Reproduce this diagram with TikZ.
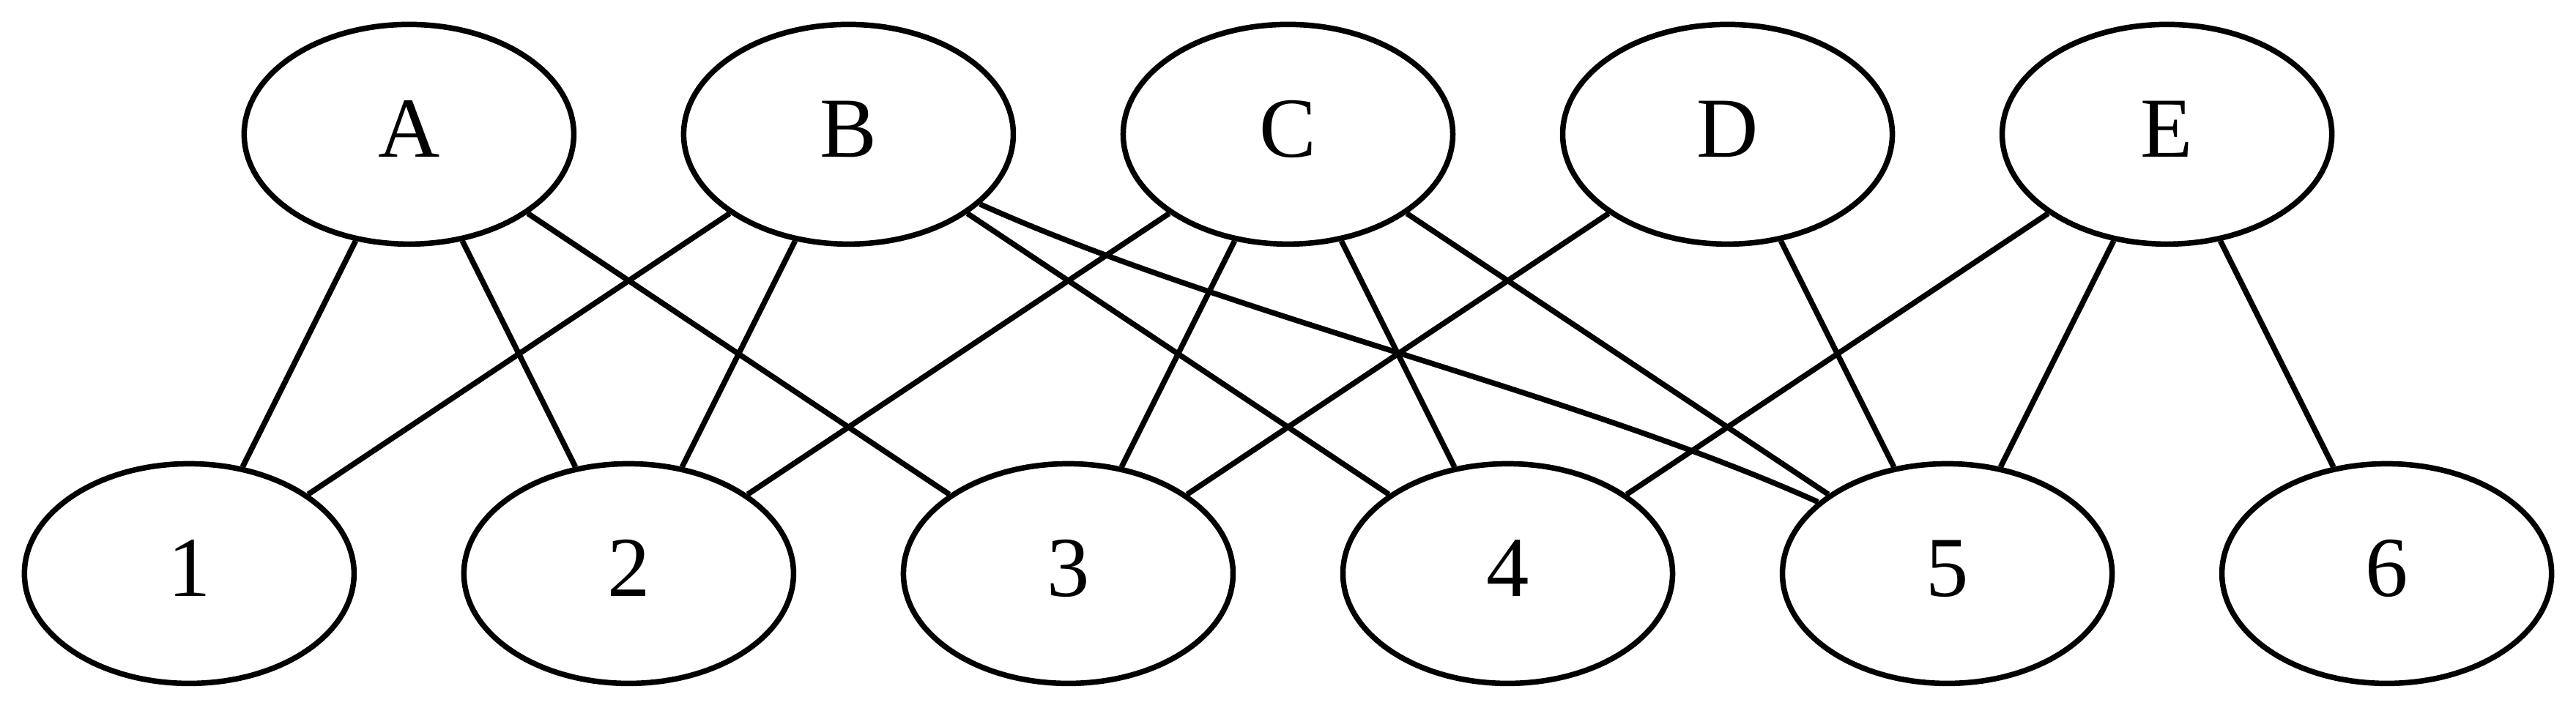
\documentclass[tikz,border=0pt]{standalone}
\usepackage{fontspec}
\setmainfont{Liberation Serif}
\usetikzlibrary{shapes.geometric,calc}
\begin{document}
\begin{tikzpicture}[x=1bp,y=1bp,
  vert/.style={draw=black, line width=0.9bp, ellipse, minimum width=54bp, minimum height=36bp,
    inner sep=0pt, font=\fontsize{14bp}{17bp}\selectfont, text height=9bp, text depth=1.5bp},
  edge/.style={draw=black, line width=0.9bp}]
\useasboundingbox (0,0) rectangle (422,116);
\node[vert] (A) at (67,94) {A};
\node[vert] (B) at (139,94) {B};
\node[vert] (C) at (211,94) {C};
\node[vert] (D) at (283,94) {D};
\node[vert] (E) at (355,94) {E};
\node[vert] (n1) at (31,22) {1};
\node[vert] (n2) at (103,22) {2};
\node[vert] (n3) at (175,22) {3};
\node[vert] (n4) at (247,22) {4};
\node[vert] (n5) at (319,22) {5};
\node[vert] (n6) at (391,22) {6};
\draw[edge] (A) -- (n1);
\draw[edge] (A) -- (n2);
\draw[edge] (A) -- (n3);
\draw[edge] (B) -- (n1);
\draw[edge] (B) -- (n2);
\draw[edge] (B) -- (n4);
\draw[edge] (B.-28.7) .. controls ($(B.-28.7)+(40,-18)$) and ($(n5.151.3)+(-40,18)$) .. (n5.151.3);
\draw[edge] (C) -- (n2);
\draw[edge] (C) -- (n3);
\draw[edge] (C) -- (n4);
\draw[edge] (C) -- (n5);
\draw[edge] (D) -- (n3);
\draw[edge] (D) -- (n5);
\draw[edge] (E) -- (n4);
\draw[edge] (E) -- (n5);
\draw[edge] (E) -- (n6);
\end{tikzpicture}
\end{document}
